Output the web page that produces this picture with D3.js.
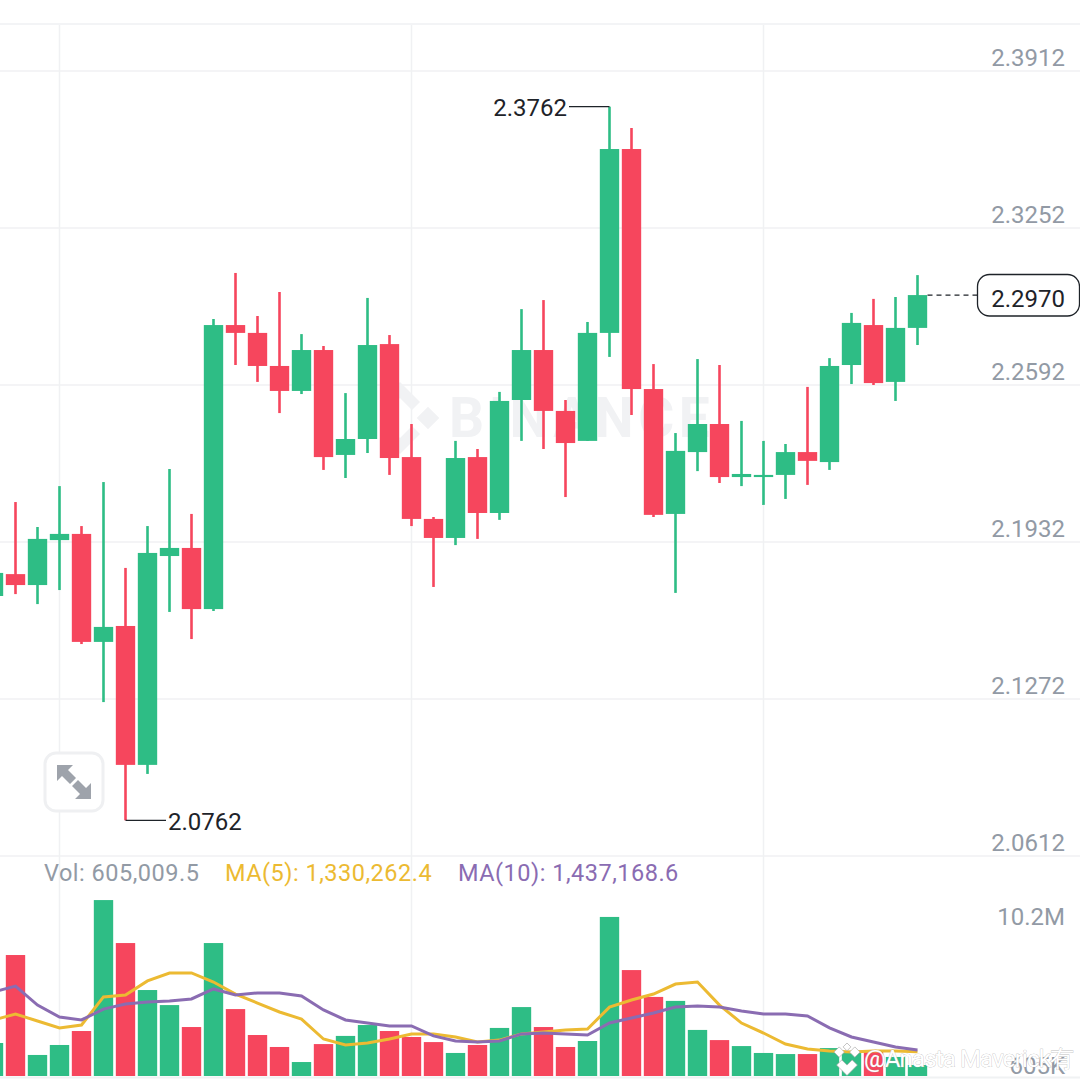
<!DOCTYPE html>
<html>
<head>
<meta charset="utf-8">
<script src="https://cdn.jsdelivr.net/npm/d3@7"></script>
<style>
  html, body { margin: 0; padding: 0; background: #fff; }
  svg { display: block; font-family: Roboto, sans-serif; }
</style>
</head>
<body>
<svg id="chart" width="1080" height="1080"></svg>
<script>
// candle values, left to right
const opens = [2.1705, 2.1797, 2.1751, 2.1940, 2.1966, 2.1512, 2.1579, 2.0995, 2.1873, 2.1907, 2.1650,
  2.2844, 2.2811, 2.2672, 2.2567, 2.2739, 2.2298, 2.2365, 2.2764, 2.2289, 2.2029, 2.1949, 2.2289, 2.2054,
  2.2529, 2.2739, 2.2483, 2.2357, 2.2811, 2.3584, 2.2575, 2.2050, 2.2310, 2.2428, 2.2205, 2.2205, 2.2214,
  2.2310, 2.2268, 2.2676, 2.2844, 2.2605, 2.2832];
const highs = [2.1802, 2.2100, 2.1995, 2.2167, 2.1999, 2.2184, 2.1823, 2.1999, 2.2239, 2.2050, 2.2869,
  2.3063, 2.2882, 2.2983, 2.2806, 2.2756, 2.2558, 2.2958, 2.2802, 2.2428, 2.2037, 2.2357, 2.2323, 2.2563,
  2.2911, 2.2949, 2.2529, 2.2857, 2.3762, 2.3672, 2.2680, 2.2390, 2.2701, 2.2676, 2.2441, 2.2357, 2.2344,
  2.2584, 2.2705, 2.2895, 2.2954, 2.2962, 2.3054];
const lows = [2.1705, 2.1713, 2.1671, 2.1730, 2.1503, 2.1259, 2.0762, 2.0957, 2.1638, 2.1524, 2.1642,
  2.2676, 2.2605, 2.2474, 2.2554, 2.2235, 2.2201, 2.2306, 2.2214, 2.1999, 2.1743, 2.1919, 2.1945, 2.2025,
  2.2357, 2.2323, 2.2121, 2.2357, 2.2710, 2.2466, 2.2037, 2.1718, 2.2230, 2.2180, 2.2167, 2.2088, 2.2113,
  2.2172, 2.2235, 2.2596, 2.2592, 2.2525, 2.2760];
const closes = [2.1802, 2.1751, 2.1945, 2.1966, 2.1512, 2.1575, 2.0995, 2.1886, 2.1907, 2.1650, 2.2844,
  2.2811, 2.2672, 2.2567, 2.2739, 2.2289, 2.2365, 2.2760, 2.2285, 2.2029, 2.1949, 2.2285, 2.2054, 2.2525,
  2.2739, 2.2483, 2.2348, 2.2811, 2.3584, 2.2575, 2.2046, 2.2315, 2.2428, 2.2205, 2.2218, 2.2214, 2.2310,
  2.2273, 2.2672, 2.2853, 2.2600, 2.2832, 2.2970];

// volume, in millions
const volumes = [1.82, 6.67, 1.16, 1.71, 2.48, 9.70, 7.33, 4.74, 3.91, 2.70, 7.33, 3.69, 2.26, 1.60, 0.77,
  1.76, 2.21, 2.81, 2.48, 2.15, 1.87, 1.27, 1.71, 2.65, 3.80, 2.70, 1.60, 1.93, 8.77, 5.84, 4.36, 4.14,
  2.54, 1.98, 1.65, 1.27, 1.21, 1.21, 1.54, 1.32, 1.43, 1.05, 0.6050095];
const ma5 = [3.09, 3.42, 3.03, 2.65, 2.81, 4.36, 4.47, 5.24, 5.68, 5.68, 5.18, 4.52, 4.02, 3.53, 3.14,
  2.04, 1.71, 1.82, 2.04, 2.32, 2.32, 2.15, 1.87, 1.98, 2.32, 2.43, 2.54, 2.59, 3.80, 4.19, 4.52, 5.07,
  5.18, 3.91, 2.92, 2.37, 1.76, 1.49, 1.38, 1.32, 1.38, 1.38, 1.3302624];
const ma10 = [4.63, 4.96, 3.91, 3.25, 3.09, 3.69, 3.97, 4.08, 4.14, 4.25, 4.80, 4.47, 4.58, 4.58, 4.41,
  3.64, 3.09, 2.92, 2.76, 2.76, 2.21, 1.93, 1.87, 1.93, 2.32, 2.37, 2.32, 2.26, 2.92, 3.20, 3.47, 3.80,
  3.86, 3.80, 3.58, 3.42, 3.42, 3.31, 2.65, 2.15, 1.87, 1.60, 1.4371686];

const priceTicks = [2.3912, 2.3252, 2.2592, 2.1932, 2.1272, 2.0612];
const gridCandles = [3, 19, 35]; // candles the vertical grid lines sit on
const volTop = 10.2;
const volTopLabel = "10.2M";
const volLastLabel = "605K";
const lastPrice = 2.2970;
const highPrice = 2.3762;
const lowPrice = 2.0762;
const highIndex = 28;
const lowIndex = 6;
const lastIndex = 42;
const legendTexts = ["Vol: 605,009.5", "MA(5): 1,330,262.4", "MA(10): 1,437,168.6"];

const GREEN = "#2ebd85";
const RED = "#f6465d";
const GRID = "#f0f1f3";
const GREY = "#929aa5";
const DARK = "#1e2329";
const YELLOW = "#ecba32";
const PURPLE = "#8a6cb2";

const svg = d3.select("#chart");
const x = d3.scaleBand()
  .domain(d3.range(opens.length))
  .range([-17.5, 928.5])
  .paddingInner(0.12)
  .paddingOuter(0.06);
const mid = (i) => x(i) + x.bandwidth() / 2;
const y = d3.scaleLinear().domain([2.0612, 2.3912]).range([856, 71]);
const volY = d3.scaleLinear().domain([0, volTop]).range([1076, 891]);
const isUp = (i) => closes[i] >= opens[i];

// header rule and bottom rule
svg.append("line").attr("x1", 0).attr("x2", 1080).attr("y1", 24).attr("y2", 24)
  .attr("stroke", "#f3f4f6").attr("stroke-width", 2);
svg.append("line").attr("x1", 0).attr("x2", 1080).attr("y1", 1077.5).attr("y2", 1077.5)
  .attr("stroke", "#f0f2f3").attr("stroke-width", 2);

// grid
svg.append("g").selectAll("line").data(priceTicks).join("line")
  .attr("x1", 0).attr("x2", 1080)
  .attr("y1", (d) => y(d)).attr("y2", (d) => y(d))
  .attr("stroke", GRID).attr("stroke-width", 1.5);
svg.append("g").selectAll("line").data(gridCandles).join("line")
  .attr("x1", (d) => mid(d)).attr("x2", (d) => mid(d))
  .attr("y1", 25).attr("y2", 1076)
  .attr("stroke", GRID).attr("stroke-width", 1.5);

// BINANCE watermark under the candles
const mark = svg.append("g").attr("transform", "translate(403,418)").attr("fill", "#f1f2f4");
mark.append("rect").attr("x", 17).attr("y", -8).attr("width", 16).attr("height", 16)
  .attr("transform", "rotate(45 25 0)");
mark.append("path").attr("d", "M-8,-8 L12,-28 L32,-8 L24,0 L12,-12 L0,0 Z")
  .attr("transform", "translate(-15,-8)");
mark.append("path").attr("d", "M-8,8 L12,28 L32,8 L24,0 L12,12 L0,0 Z")
  .attr("transform", "translate(-15,8)");
svg.append("text").attr("x", 449).attr("y", 437).attr("fill", "#f1f2f4")
  .attr("font-size", 55).attr("font-weight", 700).attr("letter-spacing", 4.6)
  .text("BINANCE");

// wicks and bodies
const candles = svg.append("g");
candles.selectAll("line").data(d3.range(opens.length)).join("line")
  .attr("x1", (i) => mid(i)).attr("x2", (i) => mid(i))
  .attr("y1", (i) => y(highs[i])).attr("y2", (i) => y(lows[i]))
  .attr("stroke", (i) => (isUp(i) ? GREEN : RED))
  .attr("stroke-width", 2.6);
candles.selectAll("rect").data(d3.range(opens.length)).join("rect")
  .attr("x", (i) => x(i)).attr("width", x.bandwidth())
  .attr("y", (i) => y(Math.max(opens[i], closes[i])))
  .attr("height", (i) => Math.abs(y(opens[i]) - y(closes[i])))
  .attr("fill", (i) => (isUp(i) ? GREEN : RED));

// price axis labels
svg.append("g").selectAll("text").data(priceTicks).join("text")
  .attr("x", 1065).attr("y", (d) => y(d) - 5)
  .attr("text-anchor", "end").attr("font-size", 24).attr("fill", GREY)
  .text((d) => d.toFixed(4));

// high and low callouts
svg.append("line").attr("x1", 569).attr("x2", mid(highIndex))
  .attr("y1", y(highPrice)).attr("y2", y(highPrice))
  .attr("stroke", DARK).attr("stroke-width", 1.2);
svg.append("text").attr("x", 567).attr("y", y(highPrice) + 9.5)
  .attr("text-anchor", "end").attr("font-size", 24).attr("fill", DARK)
  .text(highPrice.toFixed(4));
svg.append("line").attr("x1", mid(lowIndex)).attr("x2", 166)
  .attr("y1", y(lowPrice)).attr("y2", y(lowPrice))
  .attr("stroke", DARK).attr("stroke-width", 1.2);
svg.append("text").attr("x", 168).attr("y", y(lowPrice) + 9.5)
  .attr("font-size", 24).attr("fill", DARK)
  .text(lowPrice.toFixed(4));

// last price tag
svg.append("line").attr("x1", mid(lastIndex) + 10).attr("x2", 977)
  .attr("y1", y(lastPrice)).attr("y2", y(lastPrice))
  .attr("stroke", DARK).attr("stroke-width", 1.2).attr("stroke-dasharray", "5,4");
svg.append("rect").attr("x", 977.5).attr("y", 274.5).attr("width", 102).attr("height", 41.5)
  .attr("rx", 12).attr("fill", "#fff").attr("stroke", DARK).attr("stroke-width", 1.3);
svg.append("text").attr("x", 1065).attr("y", 307)
  .attr("text-anchor", "end").attr("font-size", 24).attr("fill", DARK)
  .text(lastPrice.toFixed(4));

// expand button
const btn = svg.append("g").attr("transform", "translate(74,782)");
btn.append("rect").attr("x", -29).attr("y", -29).attr("width", 58).attr("height", 58)
  .attr("rx", 11).attr("fill", "#fff").attr("stroke", "#eff0f2").attr("stroke-width", 3);
btn.append("path").attr("fill", "#9ea3ab")
  .attr("d", "M-17,-17 L-1,-17 L-6,-12 L2,-4 L-4,2 L-12,-6 L-17,-1 Z");
btn.append("path").attr("fill", "#9ea3ab")
  .attr("d", "M17,17 L1,17 L6,12 L-2,4 L4,-2 L12,6 L17,1 Z");

// volume legend
const legendX = [44, 225, 458];
const legendColors = [GREY, YELLOW, PURPLE];
svg.append("g").selectAll("text").data(legendTexts).join("text")
  .attr("x", (d, i) => legendX[i]).attr("y", 881)
  .attr("font-size", 23.5).attr("letter-spacing", 0.5)
  .attr("fill", (d, i) => legendColors[i])
  .text((d) => d);

// volume bars
svg.append("g").selectAll("rect").data(volumes).join("rect")
  .attr("x", (d, i) => x(i)).attr("width", x.bandwidth())
  .attr("y", (d) => volY(d))
  .attr("height", (d) => volY(0) - volY(d))
  .attr("fill", (d, i) => (isUp(i) ? GREEN : RED));

// moving averages
const maLine = d3.line().x((d, i) => mid(i)).y((d) => volY(d));
svg.append("path").attr("d", maLine(ma5)).attr("fill", "none")
  .attr("stroke", YELLOW).attr("stroke-width", 3);
svg.append("path").attr("d", maLine(ma10)).attr("fill", "none")
  .attr("stroke", PURPLE).attr("stroke-width", 3);

// volume axis labels
svg.append("text").attr("x", 1065).attr("y", volY(volTop) + 34)
  .attr("text-anchor", "end").attr("font-size", 24).attr("fill", GREY)
  .text(volTopLabel);
svg.append("text").attr("x", 1065).attr("y", volY(volumes[lastIndex]) + 9)
  .attr("text-anchor", "end").attr("font-size", 24).attr("fill", GREY)
  .text(volLastLabel);

// author watermark at the bottom right
const author = svg.append("g").attr("fill", "#fff").attr("stroke", "#a5a5a5").attr("stroke-width", 0.5);
author.append("path").attr("transform", "translate(847,1056) scale(1.3)")
  .attr("d", "M-10,-3 L-6,-7 L-2,-3 L-6,1 Z M2,-3 L6,-7 L10,-3 L6,1 Z M-4,3 L0,7 L4,3 L8,7 L0,15 L-8,7 Z M-3,-7 L0,-10 L3,-7 L0,-4 Z");
author.append("text").attr("x", 864).attr("y", 1067)
  .attr("font-size", 24).attr("paint-order", "stroke")
  .attr("textLength", 210).attr("lengthAdjust", "spacing")
  .text("@Anasta Maverick有");
</script>
</body>
</html>
